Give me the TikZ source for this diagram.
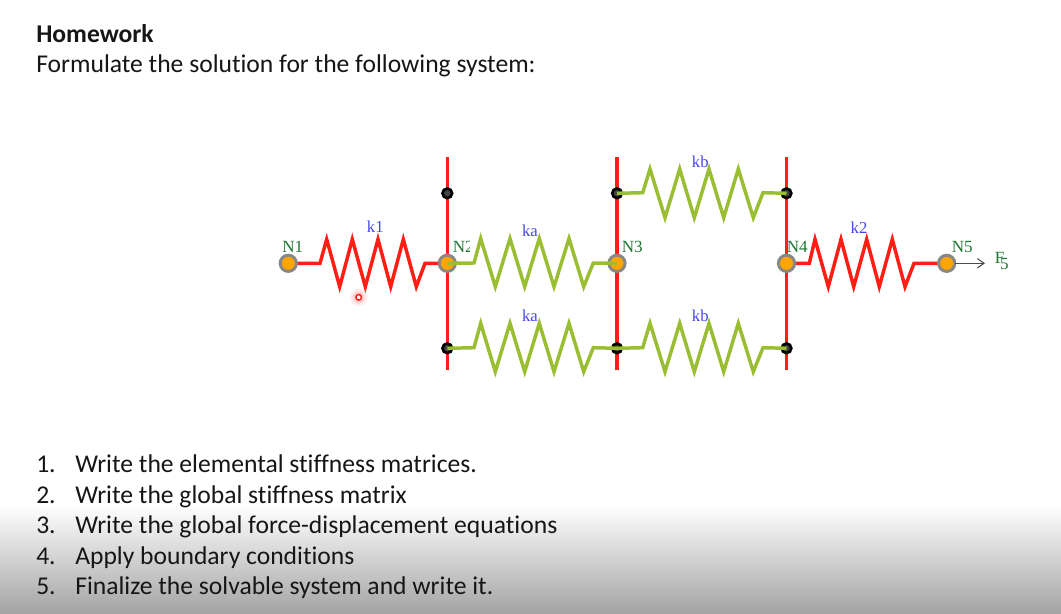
\documentclass[tikz,border=0pt]{standalone}
\usepackage{fontspec}
\setmainfont[Ligatures=CommonOff]{Carlito}
\newfontfamily\serifdiag{Liberation Serif}
\usetikzlibrary{arrows.meta}
\definecolor{sprred}{RGB}{255,30,20}
\definecolor{sprgreen}{RGB}{154,190,50}
\definecolor{nodeorange}{RGB}{255,165,0}
\definecolor{nodegray}{RGB}{135,135,135}
\definecolor{lblblue}{RGB}{70,70,235}
\definecolor{lblgreen}{RGB}{30,120,50}
\definecolor{txt}{RGB}{22,22,22}
\tikzset{
  x=0.75pt,y=-0.75pt,
  bar/.style={draw=sprred,line width=2.4pt},
  redspring/.style={draw=sprred,line width=2.6pt,miter limit=10},
  greenspring/.style={draw=sprgreen,line width=2.6pt,miter limit=10},
  mainnode/.style={circle,fill=nodeorange,draw=nodegray,line width=2.2pt,minimum size=12.2pt,inner sep=0pt},
  pinnode/.style={circle,fill=nodegray!50!black,draw=black,line width=2pt,minimum size=7.2pt,inner sep=0pt},
  springlabel/.style={text=lblblue,font=\serifdiag\fontsize{12.5}{13}\selectfont,inner sep=0pt},
  nodelabel/.style={text=lblgreen,font=\serifdiag\fontsize{12.8}{13}\selectfont,inner sep=0pt},
  bodytext/.style={text=txt,anchor=base west,inner sep=0pt,font=\fontsize{19.2}{21}\selectfont},
}
\begin{document}
\begin{tikzpicture}
\useasboundingbox (0,0) rectangle (1061,614);
\fill[white] (0,0) rectangle (1061,614);
\fill[top color=white,bottom color=black!36] (0,505) rectangle (1061,614);
% texts
\node[bodytext,font=\fontsize{19.2}{21}\selectfont\bfseries] (hw) at (36,42) {Homework};
\node[bodytext] (intro) at (36,72) {Formulate the solution for the following system:};
\node[bodytext] (n1t) at (36,472) {1.};
\node[bodytext] (l1t) at (75,472) {Write the elemental stiffness matrices.};
\node[bodytext] (n2t) at (36,503) {2.};
\node[bodytext] (l2t) at (75,503) {Write the global stiffness matrix};
\node[bodytext] (n3t) at (36,533) {3.};
\node[bodytext] (l3t) at (75,533) {Write the global force-displacement equations};
\node[bodytext] (n4t) at (36,564) {4.};
\node[bodytext] (l4t) at (75,564) {Apply boundary conditions};
\node[bodytext] (n5t) at (36,594) {5.};
\node[bodytext] (l5t) at (75,594) {Finalize the solvable system and write it.};
% bar ends
\coordinate (b2t) at (447.3,157); \coordinate (b2b) at (447.3,370);
\coordinate (b3t) at (617,157);   \coordinate (b3b) at (617,370);
\coordinate (b4t) at (786.5,157); \coordinate (b4b) at (786.5,370);
\draw[bar] (b2t) -- (b2b);
\draw[bar] (b3t) -- (b3b);
\draw[bar] (b4t) -- (b4b);
% nodes
\node[pinnode] (p2t) at (447.3,193.3) {};
\node[pinnode] (p2b) at (447.3,348.3) {};
\node[pinnode] (p3t) at (617,193.3) {};
\node[pinnode] (p3b) at (617,348.3) {};
\node[pinnode] (p4t) at (786.5,193.3) {};
\node[pinnode] (p4b) at (786.5,348.3) {};
% red springs lie under the main nodes
\coordinate (N1c) at (288.3,263.3);
\coordinate (N2c) at (447.3,263.3);
\coordinate (N3c) at (617,263.3);
\coordinate (N4c) at (786.5,263.3);
\coordinate (N5c) at (946.7,263.3);
\draw[redspring] (N1c) -- (320,263.3) -- (326.7,239.3) -- (339.7,286.7) -- (352.3,239.3) -- (365.3,286.7) -- (378,239.3) -- (390.7,286.7) -- (403.3,239.3) -- (416.3,286.7) -- (425,263.3) -- (N2c);
\draw[redspring] (N4c) -- (809.3,263.3) -- (815,239.3) -- (828.3,286.7) -- (841,239.3) -- (853.7,286.7) -- (866.7,239.3) -- (879.3,286.7) -- (892.3,239.3) -- (905,286.7) -- (914,263.3) -- (N5c);
\node[mainnode] (N1) at (N1c) {};
\node[mainnode] (N2) at (N2c) {};
\node[mainnode] (N3) at (N3c) {};
\node[mainnode] (N4) at (N4c) {};
\node[mainnode] (N5) at (N5c) {};
% green springs run over the nodes
\draw[greenspring] (N2.center) -- (474,263) -- (480.7,238.5) -- (495.3,286.7) -- (510,238.5) -- (524.7,286.7) -- (539.3,238.5) -- (554,286.7) -- (569,238.5) -- (583.7,286.7) -- (593.3,263) -- (N3.center);
\draw[greenspring] (p2b.center) -- (474,347.7) -- (480.7,323.3) -- (495.3,371.7) -- (510,323.3) -- (524.7,371.7) -- (539.3,323.3) -- (554,371.7) -- (569,323.3) -- (583.7,371.7) -- (593.3,347.7) -- (p3b.center);
\draw[greenspring] (p3t.center) -- (642.7,192.7) -- (650,169) -- (665,217.7) -- (679.7,169) -- (694.3,217.7) -- (709,169) -- (723.7,217.7) -- (738.3,169) -- (753.3,217.7) -- (763,192.7) -- (p4t.center);
\draw[greenspring] (p3b.center) -- (642.7,347.7) -- (650,323.3) -- (665,371.7) -- (679.7,323.3) -- (694.3,371.7) -- (709,323.3) -- (723.7,371.7) -- (738.3,323.3) -- (753.3,371.7) -- (763,347.7) -- (p4b.center);
% force arrow
\coordinate (Fend) at (985,263.3);
\draw[draw=black!70,line width=0.8pt,-{Straight Barb[length=5pt,width=7pt]}] (N5.center) ++(8,0) -- (Fend);
% labels
\node[springlabel] (k1) at (375.3,227) {k1};
\node[springlabel] (ka1) at (530,230.7) {ka};
\node[springlabel] (ka2) at (530,315.7) {ka};
\begin{scope}
\clip (600,150) rectangle (800,167);
\node[springlabel] (kb1) at (700.3,161.7) {kb};
\end{scope}
\node[springlabel] (kb2) at (700.3,315.7) {kb};
\node[springlabel] (k2) at (859,227.3) {k2};
\node[nodelabel] (lN1) at (292.7,246.7) {N1};
\begin{scope}
\clip (450,236) rectangle (469.5,258);
\node[nodelabel,anchor=west] (lN2) at (452.5,246.7) {N2};
\end{scope}
\node[nodelabel] (lN3) at (632.3,246.7) {N3};
\node[nodelabel] (lN4) at (797.3,246.7) {N4};
\node[nodelabel] (lN5) at (962.3,246.7) {N5};
\node[nodelabel] (lF) at (999.5,258) {F};
\node[nodelabel] (lF5) at (1004.5,264) {5};
% pointer dot
\fill[sprred,opacity=0.08] (358.7,297.3) circle (6.5pt);
\fill[sprred,opacity=0.12] (358.7,297.3) circle (4.5pt);
\node[circle,draw=sprred,fill=white,line width=1.1pt,minimum size=4.2pt,inner sep=0pt] (dot) at (358.7,297.3) {};
\end{tikzpicture}
\end{document}
